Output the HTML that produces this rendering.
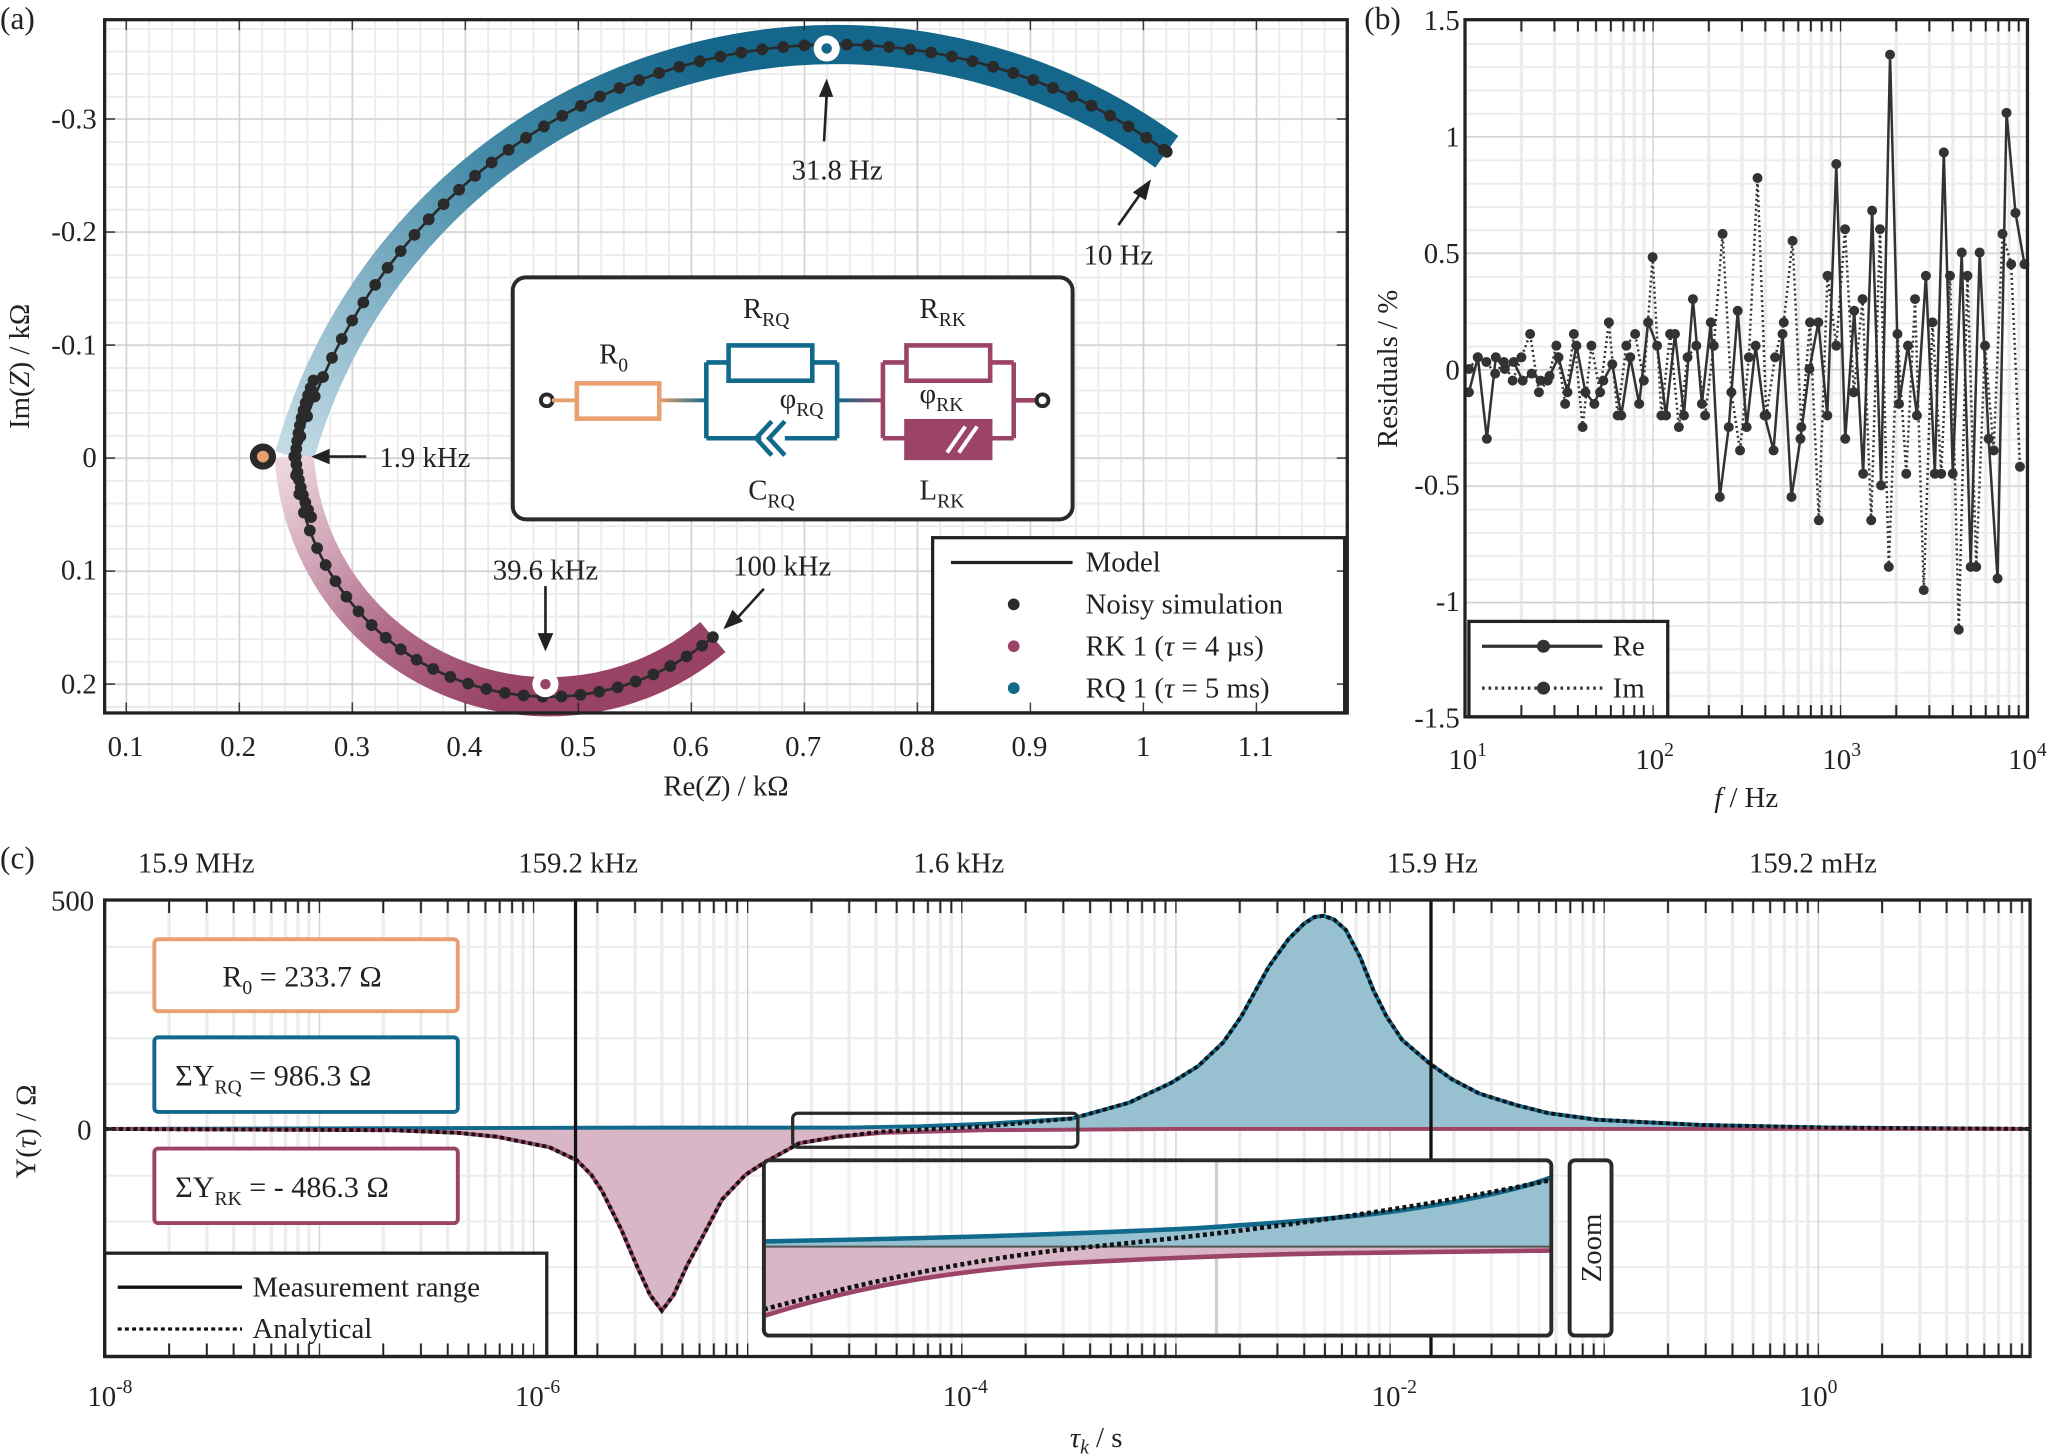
<!DOCTYPE html>
<html><head><meta charset="utf-8"><style>
html,body{margin:0;padding:0;background:#fff;}
svg{display:block;}
text{font-family:"Liberation Serif",serif;fill:#222;}
</style></head><body>
<svg width="2051" height="1456" viewBox="0 0 1568 1113" xmlns="http://www.w3.org/2000/svg">
<defs>
<pattern id="minA" patternUnits="userSpaceOnUse" x="96" y="90.4" width="17.28" height="17.28"><path d="M0 0V17.28M0 0H17.28" stroke="#ececec" stroke-width="3" fill="none"/></pattern>
<pattern id="majA" patternUnits="userSpaceOnUse" x="96" y="90.4" width="86.4" height="86.4"><path d="M0 0V86.4M0 0H86.4" stroke="#cfcfcf" stroke-width="2" fill="none"/></pattern>
<pattern id="tkAx" patternUnits="userSpaceOnUse" x="96" y="0" width="86.4" height="2000"><path d="M0 0V2000" stroke="#222" stroke-width="2"/></pattern>
<pattern id="tkAy" patternUnits="userSpaceOnUse" x="0" y="90.4" width="2000" height="86.4"><path d="M0 0H2000" stroke="#222" stroke-width="2"/></pattern>

<pattern id="minBy" patternUnits="userSpaceOnUse" x="0" y="15" width="2000" height="17.8"><path d="M0 0H2000" stroke="#ececec" stroke-width="3"/></pattern>
<pattern id="majBy" patternUnits="userSpaceOnUse" x="0" y="15" width="2000" height="89"><path d="M0 0H2000" stroke="#cfcfcf" stroke-width="2"/></pattern>
<pattern id="logB" patternUnits="userSpaceOnUse" x="1120" y="0" width="143.3" height="2000"><path d="M43.1 0V2000M68.4 0V2000M86.3 0V2000M100.2 0V2000M111.5 0V2000M121.1 0V2000M129.4 0V2000M136.7 0V2000" stroke="#ececec" stroke-width="2.5"/><path d="M0 0V2000" stroke="#cfcfcf" stroke-width="2"/></pattern>
<pattern id="logBt" patternUnits="userSpaceOnUse" x="1120" y="0" width="143.3" height="2000"><path d="M43.1 0V2000M68.4 0V2000M86.3 0V2000M100.2 0V2000M111.5 0V2000M121.1 0V2000M129.4 0V2000M136.7 0V2000" stroke="#222" stroke-width="1.5"/><path d="M0 0V2000" stroke="#222" stroke-width="2"/></pattern>

<pattern id="logC" patternUnits="userSpaceOnUse" x="80" y="0" width="163.7" height="2000"><path d="M49.3 0V2000M78.1 0V2000M98.6 0V2000M114.4 0V2000M127.4 0V2000M138.3 0V2000M147.8 0V2000M156.2 0V2000" stroke="#ececec" stroke-width="2.5"/><path d="M0 0V2000" stroke="#d0d0d0" stroke-width="2"/></pattern>
<pattern id="logCt" patternUnits="userSpaceOnUse" x="80" y="0" width="163.7" height="2000"><path d="M49.3 0V2000M78.1 0V2000M98.6 0V2000M114.4 0V2000M127.4 0V2000M138.3 0V2000M147.8 0V2000M156.2 0V2000" stroke="#222" stroke-width="1.5"/><path d="M0 0V2000" stroke="#222" stroke-width="2"/></pattern>
<pattern id="minCy" patternUnits="userSpaceOnUse" x="0" y="688" width="2000" height="35"><path d="M0 0H2000" stroke="#ececec" stroke-width="3"/></pattern>

<linearGradient id="gTop" gradientUnits="userSpaceOnUse" x1="225" y1="349" x2="560" y2="60"><stop offset="0" stop-color="#c3dbe5"/><stop offset="0.55" stop-color="#4a8eab"/><stop offset="1" stop-color="#14668a"/></linearGradient>
<linearGradient id="gBot" gradientUnits="userSpaceOnUse" x1="225" y1="349" x2="400" y2="520"><stop offset="0" stop-color="#ecd6de"/><stop offset="0.6" stop-color="#b06a88"/><stop offset="1" stop-color="#984266"/></linearGradient>
<linearGradient id="wireA" x1="0" x2="1"><stop offset="0" stop-color="#e8a070"/><stop offset="1" stop-color="#116a8b"/></linearGradient>
<linearGradient id="wireB" x1="0" x2="1"><stop offset="0" stop-color="#116a8b"/><stop offset="1" stop-color="#9b4468"/></linearGradient>
</defs>
<rect width="1568" height="1113" fill="#fff"/>

<!-- ========== Panel (a) ========== -->
<rect x="80" y="15" width="950" height="530" fill="url(#minA)"/>
<rect x="80" y="15" width="950" height="530" fill="url(#majA)"/>
<!-- bands -->
<path d="M225 349 A430 430 0 0 1 892 116" stroke="url(#gTop)" stroke-width="30" fill="none"/>
<path d="M225 349 A195 195 0 0 0 545 487" stroke="url(#gBot)" stroke-width="30" fill="none"/>
<!-- model line + dots -->
<path d="M225 349 A430 430 0 0 1 892 116" stroke="#2a2a2a" stroke-width="2" fill="none"/>
<path d="M225 349 A195 195 0 0 0 545 487" stroke="#2a2a2a" stroke-width="2" fill="none"/>
<path d="M225 349 A430 430 0 0 1 892 116" stroke="#2a2a2a" stroke-width="9" stroke-linecap="round" stroke-dasharray="0 16.2" fill="none"/>
<path d="M225 349 A195 195 0 0 0 545 487" stroke="#2a2a2a" stroke-width="9" stroke-linecap="round" stroke-dasharray="0 14.5" fill="none"/>
<path d="M226 349 Q228 320 240 290" stroke="#2a2a2a" stroke-width="9" stroke-linecap="round" stroke-dasharray="0 6" fill="none"/>
<path d="M226 349 Q228 375 240 400" stroke="#2a2a2a" stroke-width="9" stroke-linecap="round" stroke-dasharray="0 6" fill="none"/>
<circle cx="892" cy="116" r="4.5" fill="#2a2a2a"/><circle cx="545" cy="487" r="4.5" fill="#2a2a2a"/>
<!-- special markers -->
<circle cx="632" cy="37" r="10" fill="#fff"/><circle cx="632" cy="37" r="4" fill="#14668a"/>
<circle cx="417" cy="523" r="10" fill="#fff"/><circle cx="417" cy="523" r="4" fill="#984266"/>
<circle cx="201" cy="349" r="10" fill="#2a2a2a"/><circle cx="201" cy="349" r="4.5" fill="#e8a070"/>
<!-- annotations -->
<g stroke="#222" stroke-width="2" fill="#222">
<line x1="630" y1="108" x2="632" y2="72"/><path d="M626 74 L632 60 L637 74Z" stroke="none"/>
<line x1="855" y1="172" x2="872" y2="148"/><path d="M866 147 L880 137 L876 153Z" stroke="none"/>
<line x1="280" y1="349" x2="250" y2="349"/><path d="M252 343 L238 349 L252 355Z" stroke="none"/>
<line x1="417" y1="448" x2="417" y2="486"/><path d="M411 484 L417 498 L423 484Z" stroke="none"/>
<line x1="584" y1="450" x2="564" y2="472"/><path d="M560 466 L553 481 L568 475Z" stroke="none"/>
</g>
<g font-size="22">
<text x="640" y="137" text-anchor="middle">31.8 Hz</text>
<text x="855" y="202" text-anchor="middle">10 Hz</text>
<text x="290" y="357">1.9 kHz</text>
<text x="417" y="443" text-anchor="middle">39.6 kHz</text>
<text x="598" y="440" text-anchor="middle">100 kHz</text>
</g>
<!-- circuit -->
<rect x="392" y="212" width="428" height="185" rx="10" fill="#fff" stroke="#2a2a2a" stroke-width="3"/>
<circle cx="418" cy="306" r="4.5" fill="#fff" stroke="#2a2a2a" stroke-width="3"/>
<line x1="422" y1="306" x2="440" y2="306" stroke="#e8a070" stroke-width="3"/>
<rect x="441" y="293" width="63" height="27" fill="#fff" stroke="#e8a070" stroke-width="3.5"/>
<rect x="504" y="304.5" width="36" height="3" fill="url(#wireA)"/>
<g stroke="#116a8b" stroke-width="3.5" fill="none">
<path d="M540 277V335M540 277H557M621 277H640M540 335H582M600 335H640M640 277V335"/>
<rect x="557" y="264" width="64" height="27" fill="#fff"/>
<path d="M590 322 L578 335 L590 348M600 322 L588 335 L600 348"/>
</g>
<rect x="640" y="304.5" width="35" height="3" fill="url(#wireB)"/>
<g stroke="#9b4468" stroke-width="3.5" fill="none">
<path d="M675 277V335M675 277H693M757 277H775M675 335H693M757 335H775M775 277V335M775 306H792"/>
<rect x="693" y="264" width="64" height="27" fill="#fff"/>
<rect x="693" y="322" width="64" height="28" fill="#9b4468"/>
</g>
<path d="M724 346 L738 326 M733 346 L747 326" stroke="#fff" stroke-width="3"/>
<circle cx="797" cy="306" r="4.5" fill="#fff" stroke="#2a2a2a" stroke-width="3"/>
<g font-size="22">
<text x="458" y="278">R<tspan font-size="15" dy="6">0</tspan></text>
<text x="568" y="243">R<tspan font-size="15" dy="6">RQ</tspan></text>
<text x="596" y="312">φ<tspan font-size="15" dy="6">RQ</tspan></text>
<text x="572" y="382">C<tspan font-size="15" dy="6">RQ</tspan></text>
<text x="703" y="243">R<tspan font-size="15" dy="6">RK</tspan></text>
<text x="703" y="308">φ<tspan font-size="15" dy="6">RK</tspan></text>
<text x="703" y="382">L<tspan font-size="15" dy="6">RK</tspan></text>
</g>
<!-- legend a -->
<rect x="713" y="411" width="315" height="134" fill="#fff" stroke="#222" stroke-width="2.5"/>
<line x1="727" y1="430" x2="820" y2="430" stroke="#222" stroke-width="2.5"/>
<circle cx="775" cy="462" r="4.5" fill="#2a2a2a"/>
<circle cx="775" cy="494" r="4.5" fill="#9b4468"/>
<circle cx="775" cy="526" r="4.5" fill="#116a8b"/>
<g font-size="22">
<text x="830" y="437">Model</text>
<text x="830" y="469">Noisy simulation</text>
<text x="830" y="501">RK 1 (<tspan font-style="italic">τ</tspan> = 4 µs)</text>
<text x="830" y="533">RQ 1 (<tspan font-style="italic">τ</tspan> = 5 ms)</text>
</g>
<!-- ticks & axes a -->
<rect x="80" y="15" width="950" height="8" fill="url(#tkAx)"/>
<rect x="80" y="537" width="950" height="8" fill="url(#tkAx)"/>
<rect x="80" y="15" width="8" height="530" fill="url(#tkAy)"/>
<rect x="1022" y="15" width="8" height="530" fill="url(#tkAy)"/>
<rect x="80" y="15" width="950" height="530" fill="none" stroke="#222" stroke-width="2.5"/>
<g font-size="22" text-anchor="middle">
<text x="96" y="578">0.1</text><text x="182" y="578">0.2</text><text x="269" y="578">0.3</text><text x="355" y="578">0.4</text><text x="442" y="578">0.5</text><text x="528" y="578">0.6</text><text x="614" y="578">0.7</text><text x="701" y="578">0.8</text><text x="787" y="578">0.9</text><text x="874" y="578">1</text><text x="960" y="578">1.1</text>
<text x="555" y="608">Re(<tspan font-style="italic">Z</tspan>) / kΩ</text>
</g>
<g font-size="22" text-anchor="end">
<text x="74" y="98">-0.3</text><text x="74" y="184">-0.2</text><text x="74" y="271">-0.1</text><text x="74" y="357">0</text><text x="74" y="443">0.1</text><text x="74" y="530">0.2</text>
</g>
<text font-size="22" text-anchor="middle" transform="translate(22,280) rotate(-90)">Im(<tspan font-style="italic">Z</tspan>) / kΩ</text>
<text x="0" y="22" font-size="24">(a)</text>

<!-- ========== Panel (b) ========== -->
<rect x="1120" y="15" width="430" height="533" fill="url(#minBy)"/>
<rect x="1120" y="15" width="430" height="533" fill="url(#logB)"/>
<rect x="1120" y="15" width="430" height="533" fill="url(#majBy)"/>
<g transform="translate(1123,282) scale(6.85,-178)">
<polyline vector-effect="non-scaling-stroke" fill="none" stroke="#333" stroke-width="2.5" points="0,-0.1 1,0.05 2,-0.3 3,0.05 4,0 5,0.03 6,-0.05 7,-0.02 8,-0.05 9,-0.03 10,0.05 11,-0.1 12,0.1 13,-0.1 14,-0.15 15,-0.05 16,0.02 17,-0.2 18,0.05 19,-0.15 20,0.2 21,0.1 22,-0.2 23,0.15 24,-0.2 25,0.3 26,-0.15 27,0.2 28,-0.55 29,-0.25 30,0.25 31,-0.25 32,0.1 33,-0.2 34,-0.35 35,0.15 36,-0.55 37,-0.3 38,0 39,0.2 40,-0.2 41,0.88 42,-0.3 43,0.25 44,-0.45 45,0.68 46,-0.5 47,1.35 48,-0.15 49,0.1 50,-0.2 51,0.4 52,-0.45 53,0.93 54,-0.45 55,0.5 56,-0.85 57,0.5 58,-0.3 59,-0.9 60,1.1 61,0.67 62,0.45"/>
<polyline vector-effect="non-scaling-stroke" fill="none" stroke="#333" stroke-width="2.5" stroke-dasharray="2 3" points="0,0 0.98,0.05 1.95,0.03 2.93,-0.02 3.9,0.03 4.88,-0.05 5.86,0.05 6.83,0.15 7.81,-0.1 8.79,-0.05 9.76,0.1 10.74,-0.15 11.71,0.15 12.69,-0.25 13.67,0.1 14.64,-0.1 15.62,0.2 16.6,-0.2 17.57,0.1 18.55,0.15 19.52,-0.05 20.5,0.48 21.48,-0.2 22.45,0.15 23.43,-0.25 24.4,0.05 25.38,0.1 26.36,-0.2 27.33,0.1 28.31,0.58 29.29,-0.1 30.26,-0.35 31.24,0.05 32.21,0.82 33.19,-0.2 34.17,0.05 35.14,0.2 36.12,0.55 37.1,-0.25 38.07,0.2 39.05,-0.65 40.02,0.4 41,0.1 41.98,0.6 42.95,-0.1 43.93,0.3 44.9,-0.65 45.88,0.6 46.86,-0.85 47.83,0.15 48.81,-0.45 49.79,0.3 50.76,-0.95 51.74,0.2 52.71,-0.45 53.69,0.4 54.67,-1.12 55.64,0.4 56.62,-0.85 57.6,0.1 58.57,-0.35 59.55,0.58 60.52,0.45 61.5,-0.42"/>
<path vector-effect="non-scaling-stroke" stroke="#333" stroke-width="10" stroke-linecap="round" fill="none" d="M0 -0.1h0M1 0.05h0M2 -0.3h0M3 0.05h0M4 0h0M5 0.03h0M6 -0.05h0M7 -0.02h0M8 -0.05h0M9 -0.03h0M10 0.05h0M11 -0.1h0M12 0.1h0M13 -0.1h0M14 -0.15h0M15 -0.05h0M16 0.02h0M17 -0.2h0M18 0.05h0M19 -0.15h0M20 0.2h0M21 0.1h0M22 -0.2h0M23 0.15h0M24 -0.2h0M25 0.3h0M26 -0.15h0M27 0.2h0M28 -0.55h0M29 -0.25h0M30 0.25h0M31 -0.25h0M32 0.1h0M33 -0.2h0M34 -0.35h0M35 0.15h0M36 -0.55h0M37 -0.3h0M38 0h0M39 0.2h0M40 -0.2h0M41 0.88h0M42 -0.3h0M43 0.25h0M44 -0.45h0M45 0.68h0M46 -0.5h0M47 1.35h0M48 -0.15h0M49 0.1h0M50 -0.2h0M51 0.4h0M52 -0.45h0M53 0.93h0M54 -0.45h0M55 0.5h0M56 -0.85h0M57 0.5h0M58 -0.3h0M59 -0.9h0M60 1.1h0M61 0.67h0M62 0.45h0"/>
<path vector-effect="non-scaling-stroke" stroke="#333" stroke-width="10" stroke-linecap="round" fill="none" d="M0 0h0M0.98 0.05h0M1.95 0.03h0M2.93 -0.02h0M3.9 0.03h0M4.88 -0.05h0M5.86 0.05h0M6.83 0.15h0M7.81 -0.1h0M8.79 -0.05h0M9.76 0.1h0M10.74 -0.15h0M11.71 0.15h0M12.69 -0.25h0M13.67 0.1h0M14.64 -0.1h0M15.62 0.2h0M16.6 -0.2h0M17.57 0.1h0M18.55 0.15h0M19.52 -0.05h0M20.5 0.48h0M21.48 -0.2h0M22.45 0.15h0M23.43 -0.25h0M24.4 0.05h0M25.38 0.1h0M26.36 -0.2h0M27.33 0.1h0M28.31 0.58h0M29.29 -0.1h0M30.26 -0.35h0M31.24 0.05h0M32.21 0.82h0M33.19 -0.2h0M34.17 0.05h0M35.14 0.2h0M36.12 0.55h0M37.1 -0.25h0M38.07 0.2h0M39.05 -0.65h0M40.02 0.4h0M41 0.1h0M41.98 0.6h0M42.95 -0.1h0M43.93 0.3h0M44.9 -0.65h0M45.88 0.6h0M46.86 -0.85h0M47.83 0.15h0M48.81 -0.45h0M49.79 0.3h0M50.76 -0.95h0M51.74 0.2h0M52.71 -0.45h0M53.69 0.4h0M54.67 -1.12h0M55.64 0.4h0M56.62 -0.85h0M57.6 0.1h0M58.57 -0.35h0M59.55 0.58h0M60.52 0.45h0M61.5 -0.42h0"/>
</g>
<!-- legend b -->
<rect x="1123" y="475" width="152" height="73" fill="#fff" stroke="#222" stroke-width="2.5"/>
<line x1="1133" y1="494" x2="1225" y2="494" stroke="#333" stroke-width="2.5"/><circle cx="1180" cy="494" r="5" fill="#333"/>
<line x1="1133" y1="526" x2="1225" y2="526" stroke="#333" stroke-width="2.5" stroke-dasharray="2 3"/><circle cx="1180" cy="526" r="5" fill="#333"/>
<text x="1233" y="501" font-size="22">Re</text>
<text x="1233" y="533" font-size="22">Im</text>
<rect x="1120" y="15" width="430" height="9" fill="url(#logBt)"/>
<rect x="1120" y="539" width="430" height="9" fill="url(#logBt)"/>
<rect x="1120" y="15" width="430" height="533" fill="none" stroke="#222" stroke-width="2.5"/>
<g font-size="22" text-anchor="end">
<text x="1116" y="23">1.5</text><text x="1116" y="112">1</text><text x="1116" y="201">0.5</text><text x="1116" y="290">0</text><text x="1116" y="378">-0.5</text><text x="1116" y="467">-1</text><text x="1116" y="556">-1.5</text>
</g>
<g font-size="22" text-anchor="middle">
<text x="1122" y="588">10<tspan font-size="15" dy="-10">1</tspan></text>
<text x="1265" y="588">10<tspan font-size="15" dy="-10">2</tspan></text>
<text x="1408" y="588">10<tspan font-size="15" dy="-10">3</tspan></text>
<text x="1550" y="588">10<tspan font-size="15" dy="-10">4</tspan></text>
<text x="1335" y="617"><tspan font-style="italic">f</tspan> / Hz</text>
</g>
<text font-size="22" text-anchor="middle" transform="translate(1068,282) rotate(-90)">Residuals / %</text>
<text x="1043" y="22" font-size="24">(b)</text>

<!-- ========== Panel (c) ========== -->
<rect x="80" y="688" width="1472" height="349" fill="url(#minCy)"/>
<rect x="80" y="688" width="1472" height="349" fill="url(#logC)"/>
<!-- fills -->
<path d="M80 863 L500 862 L648 862 L702 861 L755 859 L820 855 L863 843 L895 828 L916 815 L935 797 L949 777 L960 757 L970 739 L985 718 L997 706 L1005 701 L1012 700 L1020 703 L1029 711 L1040 732 L1050 757 L1060 777 L1072 795 L1093 813 L1110 825 L1131 836 L1160 845 L1184 851 L1221 856 L1300 860 L1400 862 L1552 863 Z" fill="#97c1d1"/>
<path d="M80 863 L300 864 L350 866 L380 869 L420 877 L441 887 L452 898 L460 910 L475 940 L487 968 L497 990 L506 1002 L515 990 L525 968 L540 940 L552 917 L570 898 L584 889 L611 874 L640 869 L675 866 L755 864 L900 863 Z" fill="#d9b6c5"/>
<path d="M80 863 L500 862 L648 862 L702 861 L755 859 L820 855 L863 843 L895 828 L916 815 L935 797 L949 777 L960 757 L970 739 L985 718 L997 706 L1005 701 L1012 700 L1020 703 L1029 711 L1040 732 L1050 757 L1060 777 L1072 795 L1093 813 L1110 825 L1131 836 L1160 845 L1184 851 L1221 856 L1300 860 L1400 862 L1552 863" fill="none" stroke="#116a8b" stroke-width="3"/>
<path d="M80 863 L300 864 L350 866 L380 869 L420 877 L441 887 L452 898 L460 910 L475 940 L487 968 L497 990 L506 1002 L515 990 L525 968 L540 940 L552 917 L570 898 L584 889 L611 874 L640 869 L675 866 L755 864 L900 863 L1552 863" fill="none" stroke="#9b4468" stroke-width="3"/>
<path d="M80 863 L300 864 L350 866 L380 869 L420 877 L441 887 L452 898 L460 910 L475 940 L487 968 L497 990 L506 1002 L515 990 L525 968 L540 940 L552 917 L570 898 L584 889 L611 874 L640 869 L675 865 L755 861 L820 855 L863 843 L895 828 L916 815 L935 797 L949 777 L960 757 L970 739 L985 718 L997 706 L1005 701 L1012 700 L1020 703 L1029 711 L1040 732 L1050 757 L1060 777 L1072 795 L1093 813 L1110 825 L1131 836 L1160 845 L1184 851 L1221 856 L1300 860 L1400 862 L1552 863" fill="none" stroke="#111" stroke-width="3" stroke-dasharray="3 2.5"/>
<!-- measurement range lines -->
<line x1="440" y1="688" x2="440" y2="1037" stroke="#111" stroke-width="2.5"/>
<line x1="1094" y1="688" x2="1094" y2="1037" stroke="#111" stroke-width="2.5"/>
<!-- small zoom box -->
<rect x="606" y="851" width="218" height="26" rx="4" fill="none" stroke="#2a2a2a" stroke-width="2.5"/>
<!-- inset -->
<rect x="584" y="887" width="602" height="134" rx="4" fill="#fff"/>
<rect x="584" y="887" width="602" height="134" fill="url(#logC)" opacity="0.7"/>
<line x1="930" y1="887" x2="930" y2="1021" stroke="#cfcfcf" stroke-width="2.5"/>
<path d="M584 949 C750 946 850 942 913 939 C990 934 1040 930 1073 925 C1120 918 1160 910 1186 900 L1186 953 L584 953 Z" fill="#97c1d1"/>
<path d="M584 1006 C650 985 720 972 808 966 C900 961 960 959 1024 958 C1100 957 1150 956 1186 956 L1186 953 L584 953 Z" fill="#d9b6c5"/>
<line x1="584" y1="953" x2="1186" y2="953" stroke="#555" stroke-width="1.5"/>
<path d="M584 949 C750 946 850 942 913 939 C990 934 1040 930 1073 925 C1120 918 1160 910 1186 900" fill="none" stroke="#116a8b" stroke-width="3.5"/>
<path d="M584 1006 C650 985 720 972 808 966 C900 961 960 959 1024 958 C1100 957 1150 956 1186 956" fill="none" stroke="#9b4468" stroke-width="3.5"/>
<path d="M584 1001 C680 975 760 960 835 953 C950 942 1080 925 1186 902" fill="none" stroke="#111" stroke-width="3.5" stroke-dasharray="3 2.5"/>
<rect x="584" y="887" width="602" height="134" rx="4" fill="none" stroke="#2a2a2a" stroke-width="3"/>
<rect x="1200" y="887" width="32" height="134" rx="4" fill="#fff" stroke="#2a2a2a" stroke-width="3"/>
<text font-size="22" text-anchor="middle" transform="translate(1224,954) rotate(-90)">Zoom</text>
<!-- value boxes -->
<rect x="118" y="718" width="232" height="55" rx="3" fill="#fff" stroke="#e8a070" stroke-width="3"/>
<rect x="118" y="793" width="232" height="57" rx="3" fill="#fff" stroke="#116a8b" stroke-width="3"/>
<rect x="118" y="878" width="232" height="57" rx="3" fill="#fff" stroke="#9b4468" stroke-width="3"/>
<g font-size="23">
<text x="170" y="754">R<tspan font-size="15" dy="6">0</tspan><tspan dy="-6"> = 233.7 Ω</tspan></text>
<text x="134" y="830">ΣΥ<tspan font-size="15" dy="6">RQ</tspan><tspan dy="-6"> = 986.3 Ω</tspan></text>
<text x="134" y="915">ΣΥ<tspan font-size="15" dy="6">RK</tspan><tspan dy="-6"> = - 486.3 Ω</tspan></text>
</g>
<!-- legend c -->
<rect x="80" y="958" width="338" height="79" fill="#fff" stroke="#222" stroke-width="2.5"/>
<line x1="90" y1="984" x2="185" y2="984" stroke="#111" stroke-width="2.5"/>
<line x1="90" y1="1016" x2="185" y2="1016" stroke="#111" stroke-width="2.5" stroke-dasharray="3 2.5"/>
<text x="193" y="991" font-size="22">Measurement range</text>
<text x="193" y="1023" font-size="22">Analytical</text>
<!-- ticks & frame c -->
<rect x="80" y="688" width="1472" height="10" fill="url(#logCt)"/>
<rect x="80" y="1027" width="1472" height="10" fill="url(#logCt)"/>
<line x1="80" y1="863" x2="88" y2="863" stroke="#222" stroke-width="2"/>
<line x1="1544" y1="863" x2="1552" y2="863" stroke="#222" stroke-width="2"/>
<rect x="80" y="688" width="1472" height="349" fill="none" stroke="#222" stroke-width="2.5"/>
<g font-size="22" text-anchor="middle">
<text x="150" y="667">15.9 MHz</text>
<text x="442" y="667">159.2 kHz</text>
<text x="733" y="667">1.6 kHz</text>
<text x="1095" y="667">15.9 Hz</text>
<text x="1386" y="667">159.2 mHz</text>
<text x="84" y="1075">10<tspan font-size="15" dy="-10">-8</tspan></text>
<text x="411" y="1075">10<tspan font-size="15" dy="-10">-6</tspan></text>
<text x="738" y="1075">10<tspan font-size="15" dy="-10">-4</tspan></text>
<text x="1066" y="1075">10<tspan font-size="15" dy="-10">-2</tspan></text>
<text x="1390" y="1075">10<tspan font-size="15" dy="-10">0</tspan></text>
<text x="838" y="1106"><tspan font-style="italic">τ</tspan><tspan font-size="15" dy="5" font-style="italic">k</tspan><tspan dy="-5"> / s</tspan></text>
</g>
<g font-size="22" text-anchor="end">
<text x="72" y="696">500</text><text x="70" y="871">0</text>
</g>
<text font-size="22" text-anchor="middle" transform="translate(27,865) rotate(-90)">Υ(<tspan font-style="italic">τ</tspan>) / Ω</text>
<text x="0" y="664" font-size="24">(c)</text>
</svg>
</body></html>
